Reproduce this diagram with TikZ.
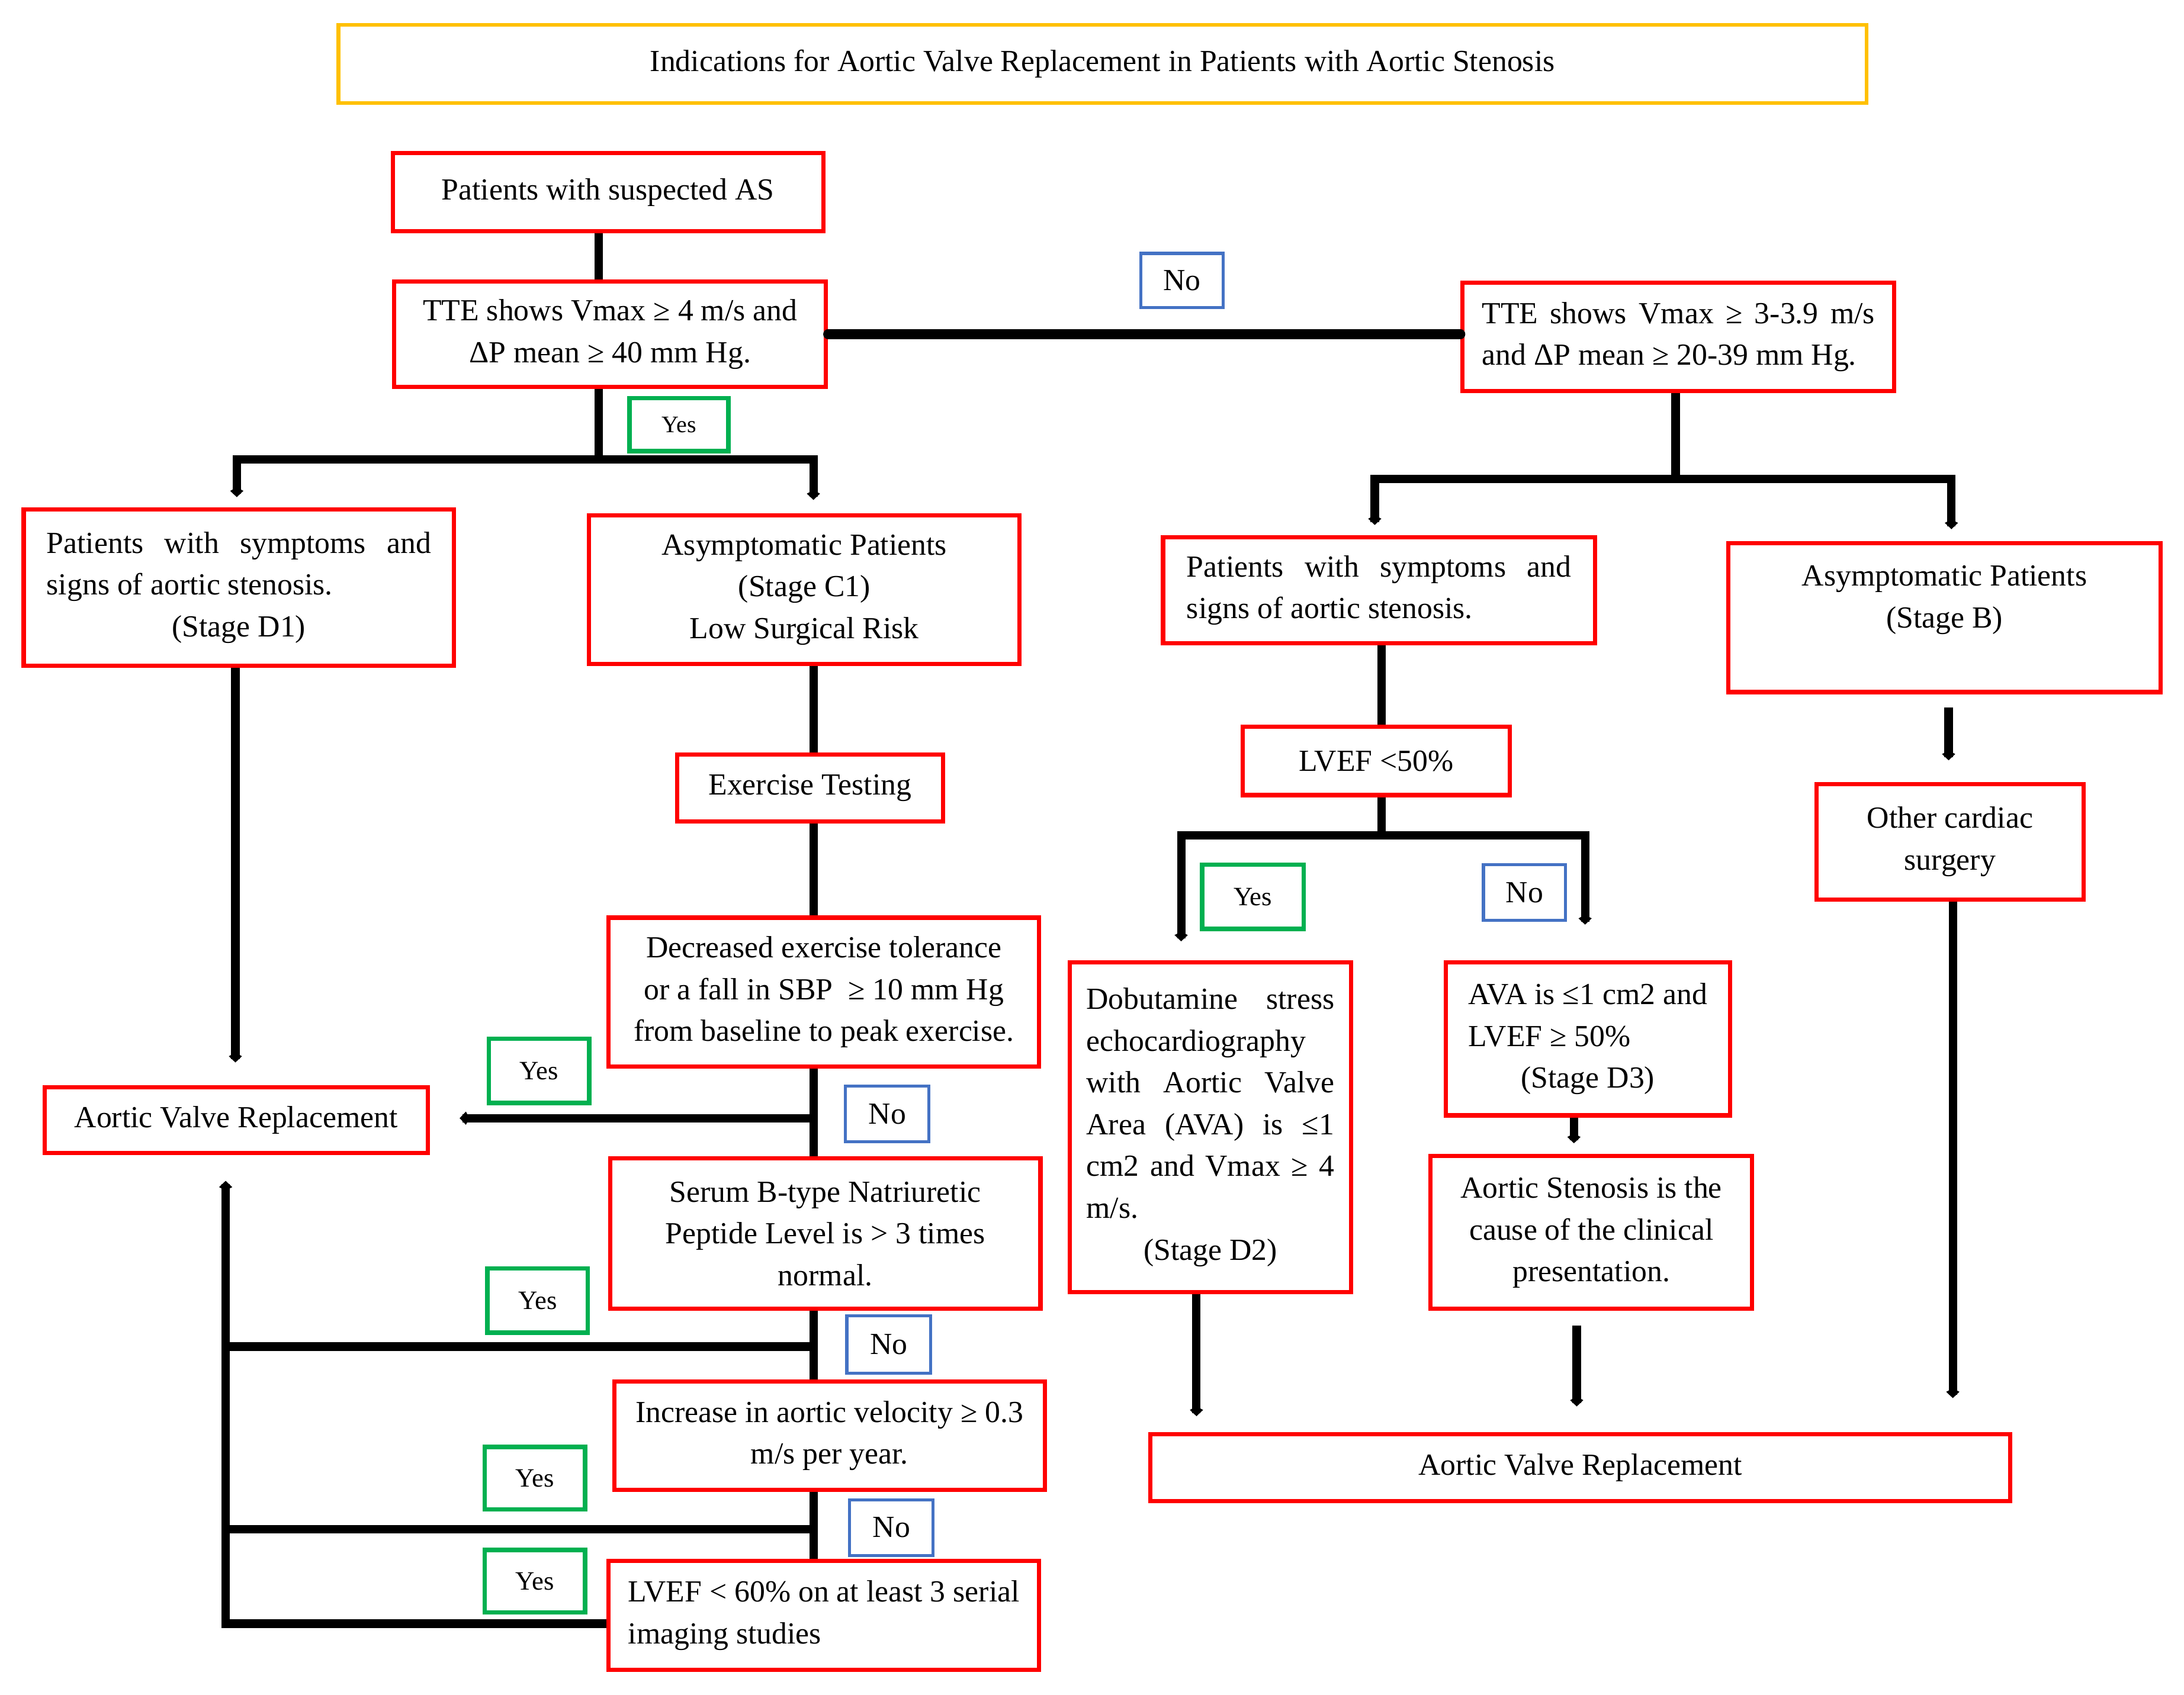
\documentclass[tikz,border=0pt]{standalone}
\usepackage{fontspec}
\setmainfont{Liberation Serif}
\usetikzlibrary{arrows.meta}
\definecolor{ycol}{HTML}{FFC000}
\definecolor{gcol}{HTML}{00B050}
\definecolor{bcol}{HTML}{4472C4}
\definecolor{rcol}{HTML}{FF0000}
\newcommand\BOX[7]{\node[#1, minimum width={(#5)-(#3)}, minimum height={(#6)-(#4)}] (#2) at ({((#3)+(#5))/2},{((#4)+(#6))/2}) {#7};}
\newcommand\JL[2]{\makebox[#1][l]{#2}}
\newlength\avaw
\begin{document}
\begin{tikzpicture}[x=1pt,y=-1pt,
 base/.style={inner sep=0pt, align=center, font=\fontsize{22}{30}\selectfont},
 rbox/.style={base, draw=rcol, line width=3pt},
 ybox/.style={base, draw=ycol, line width=2.6pt},
 gbox/.style={base, draw=gcol, line width=3.2pt, font=\fontsize{19}{24}\selectfont},
 nbox/.style={base, draw=bcol, line width=2.2pt},
 ln/.style={line width=6pt, black},
 mainln/.style={line width=7pt, black, line cap=round},
 arr/.style={ln, -{Kite[length=7pt,width=9.5pt,inset=2.5pt]}},
]
\useasboundingbox (0,0) rectangle (1568,1217.2);

% boxes
\BOX{ybox}{title}{243}{18}{1340}{74}{Indications for Aortic Valve Replacement in Patients with Aortic Stenosis}
\BOX{rbox}{susp}{282}{110}{591}{166}{Patients with suspected AS}
\BOX{rbox}{tte1}{283}{202}{593}{278}{TTE shows Vmax ≥ 4 m/s and\\ΔP mean ≥ 40 mm Hg.}
\BOX{rbox, align=left}{tte2}{1050}{203}{1360}{281}{\JL{282pt}{TTE\hfill shows\hfill Vmax\hfill ≥\hfill 3-3.9\hfill m/s}\\and ΔP mean ≥ 20-39 mm Hg.}
\BOX{rbox, align=left}{d1}{17}{366}{326}{478}{\JL{276pt}{Patients\hfill with\hfill symptoms\hfill and}\\signs of aortic stenosis.\\\makebox[276pt]{(Stage D1)}}
\BOX{rbox}{c1}{423}{370}{732}{477}{Asymptomatic Patients\\(Stage C1)\\Low Surgical Risk}
\BOX{rbox, align=left}{sympR}{835}{386}{1145}{462}{\JL{276pt}{Patients\hfill with\hfill symptoms\hfill and}\\signs of aortic stenosis.}
\BOX{rbox}{stageB}{1241}{390}{1551}{497}{Asymptomatic Patients\\(Stage B)\\\mbox{}}
\BOX{rbox}{ex}{486}{542}{677}{590}{Exercise Testing}
\BOX{rbox}{dec}{437}{659}{746}{766}{Decreased exercise tolerance\\or a fall in SBP\ \ ≥ 10 mm Hg\\from baseline to peak exercise.}
\BOX{rbox}{avrL}{32}{781}{307}{828}{Aortic Valve Replacement}
\BOX{rbox}{bnp}{438}{832}{747}{940}{Serum B-type Natriuretic\\Peptide Level is > 3 times\\normal.}
\BOX{rbox}{vel}{441}{992}{750}{1070}{Increase in aortic velocity ≥ 0.3\\m/s per year.}
\BOX{rbox, align=left}{lv60}{437}{1121}{746}{1199}{LVEF < 60\% on at least 3 serial\\imaging studies}
\BOX{rbox}{lvef50}{892}{522}{1084}{571}{LVEF <50\%}
\BOX{rbox, align=left}{dob}{768}{691}{970}{928}{\JL{178pt}{Dobutamine\hfill stress}\\echocardiography\\\JL{178pt}{with\hfill Aortic\hfill Valve}\\\JL{178pt}{Area\hfill (AVA)\hfill is\hfill ≤1}\\\JL{178pt}{cm2\hfill and\hfill Vmax\hfill ≥\hfill 4}\\m/s.\\\makebox[178pt]{(Stage D2)}}
\BOX{rbox, align=left}{ava}{1038}{691}{1242}{801}{\settowidth{\avaw}{AVA is ≤1 cm2 and}\global\avaw=\avaw AVA is ≤1 cm2 and\\LVEF ≥ 50\%\\\makebox[\avaw]{(Stage D3)}}
\BOX{rbox}{ascause}{1027}{830}{1258}{940}{Aortic Stenosis is the\\cause of the clinical\\presentation.}
\BOX{rbox}{other}{1304}{563}{1496}{646}{Other cardiac\\surgery}
\BOX{rbox}{avrR}{826}{1030}{1443}{1078}{Aortic Valve Replacement}

% labels
\BOX{nbox}{no1}{819}{182}{878}{221}{No}
\BOX{gbox, font=\fontsize{17}{20}\selectfont}{yes1}{452}{286}{523}{324}{Yes}
\BOX{gbox}{yes2}{351}{746}{423}{792}{Yes}
\BOX{nbox}{no2}{607}{780}{667}{820}{No}
\BOX{gbox}{yes3}{350}{911}{422}{957}{Yes}
\BOX{nbox}{no3}{608}{945}{668}{986}{No}
\BOX{gbox}{yes4}{348}{1039}{420}{1084}{Yes}
\BOX{nbox}{no4}{610}{1077}{670}{1117}{No}
\BOX{gbox}{yes5}{348}{1113}{420}{1158}{Yes}
\BOX{gbox}{yes6}{863}{621}{936}{667}{Yes}
\BOX{nbox}{no6}{1065}{621}{1124}{661}{No}

% connectors, left part
\coordinate (jA) at (430,330);
\coordinate (tD1) at (170,357);
\coordinate (tC1) at (584,359);
\draw[ln] (susp.south -| jA) -- (tte1.north -| jA);
\draw[ln] (tte1.south -| jA) -- (jA);
\draw[arr] (jA) -| (tD1);
\draw[arr] (jA) -| (tC1);
\draw[mainln] (tte1.east) -- (tte2.west |- tte1.east);

\coordinate (tA1) at (169,763);
\draw[arr] (d1.south -| tA1) -- (tA1);

\coordinate (cx) at (584,0);
\draw[ln] (c1.south -| cx) -- (ex.north -| cx);
\draw[ln] (ex.south -| cx) -- (dec.north -| cx);
\draw[ln] (dec.south -| cx) -- (bnp.north -| cx);
\draw[ln] (bnp.south -| cx) -- (vel.north -| cx);
\draw[ln] (vel.south -| cx) -- (lv60.north -| cx);

\coordinate (h1) at (584,803);
\coordinate (tAV) at (330,803);
\draw[arr] (h1) -- (tAV);
\coordinate (h2) at (584,967);
\coordinate (h3) at (584,1098);
\coordinate (yl5) at (162,1166);
\coordinate (tUp) at (162,848);
\draw[ln] (h2) -- (h2 -| yl5);
\draw[ln] (h3) -- (h3 -| yl5);
\draw[arr] (lv60.west |- yl5) -- (yl5) -- (tUp);

% connectors, right part
\coordinate (jB) at (1203,344);
\coordinate (tSR) at (987,377);
\coordinate (tSB) at (1401,380);
\draw[ln] (tte2.south -| jB) -- (jB);
\draw[arr] (jB) -| (tSR);
\draw[arr] (jB) -| (tSB);

\coordinate (rx) at (992,0);
\draw[ln] (sympR.south -| rx) -- (lvef50.north -| rx);
\coordinate (jC) at (992,600);
\coordinate (tDob) at (848,676);
\coordinate (tAva) at (1138,664);
\draw[ln] (lvef50.south -| jC) -- (jC);
\draw[arr] (jC) -| (tDob);
\draw[arr] (jC) -| (tAva);

\coordinate (tB1) at (859,1017);
\draw[arr] (dob.south -| tB1) -- (tB1);
\coordinate (tB2) at (1130,821);
\draw[arr] (ava.south -| tB2) -- (tB2);
\coordinate (sB3) at (1132,952);
\coordinate (tB3) at (1132,1010);
\draw[arr] (sB3) -- (tB3);
\coordinate (tB4) at (1402,1004);
\draw[arr] (other.south -| tB4) -- (tB4);
\coordinate (sB5) at (1399,508);
\coordinate (tB5) at (1399,546);
\draw[arr] (sB5) -- (tB5);
\end{tikzpicture}
\end{document}
